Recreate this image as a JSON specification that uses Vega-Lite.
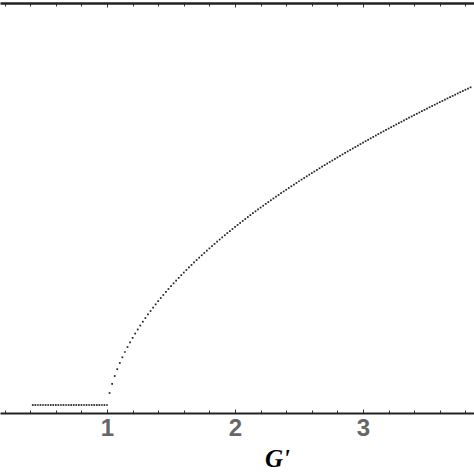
{
  "$schema": "https://vega.github.io/schema/vega-lite/v6.json",
  "width": 474,
  "height": 410,
  "autosize": {"type": "none"},
  "padding": {"left": 0, "right": 0, "top": 3, "bottom": 61},
  "background": "white",
  "view": {"stroke": null},
  "data": {"values": [
    {"g":0.42,"m":0},{"g":0.44,"m":0},{"g":0.46,"m":0},{"g":0.48,"m":0},{"g":0.50,"m":0},{"g":0.52,"m":0},{"g":0.54,"m":0},{"g":0.56,"m":0},{"g":0.58,"m":0},{"g":0.60,"m":0},
    {"g":0.62,"m":0},{"g":0.64,"m":0},{"g":0.66,"m":0},{"g":0.68,"m":0},{"g":0.70,"m":0},{"g":0.72,"m":0},{"g":0.74,"m":0},{"g":0.76,"m":0},{"g":0.78,"m":0},{"g":0.80,"m":0},
    {"g":0.82,"m":0},{"g":0.84,"m":0},{"g":0.86,"m":0},{"g":0.88,"m":0},{"g":0.90,"m":0},{"g":0.92,"m":0},{"g":0.94,"m":0},{"g":0.96,"m":0},{"g":0.98,"m":0},
    {"g":1.00,"m":0},{"g":1.02,"m":0.0586},{"g":1.04,"m":0.1035},{"g":1.06,"m":0.1414},{"g":1.08,"m":0.1748},{"g":1.10,"m":0.2050},{"g":1.12,"m":0.2327},{"g":1.14,"m":0.2586},{"g":1.16,"m":0.2828},{"g":1.18,"m":0.3058},
    {"g":1.20,"m":0.3276},{"g":1.22,"m":0.3485},{"g":1.24,"m":0.3685},{"g":1.26,"m":0.3877},{"g":1.28,"m":0.4063},{"g":1.30,"m":0.4243},{"g":1.32,"m":0.4417},{"g":1.34,"m":0.4586},{"g":1.36,"m":0.4750},{"g":1.38,"m":0.4910},
    {"g":1.40,"m":0.5067},{"g":1.42,"m":0.5219},{"g":1.44,"m":0.5368},{"g":1.46,"m":0.5514},{"g":1.48,"m":0.5657},{"g":1.50,"m":0.5797},{"g":1.52,"m":0.5934},{"g":1.54,"m":0.6069},{"g":1.56,"m":0.6202},{"g":1.58,"m":0.6332},
    {"g":1.60,"m":0.6460},{"g":1.62,"m":0.6586},{"g":1.64,"m":0.6710},{"g":1.66,"m":0.6832},{"g":1.68,"m":0.6952},{"g":1.70,"m":0.7071},{"g":1.72,"m":0.7188},{"g":1.74,"m":0.7304},{"g":1.76,"m":0.7418},{"g":1.78,"m":0.7530},
    {"g":1.80,"m":0.7641},{"g":1.82,"m":0.7751},{"g":1.84,"m":0.7859},{"g":1.86,"m":0.7967},{"g":1.88,"m":0.8073},{"g":1.90,"m":0.8177},{"g":1.92,"m":0.8281},{"g":1.94,"m":0.8384},{"g":1.96,"m":0.8485},{"g":1.98,"m":0.8586},
    {"g":2.00,"m":0.8685},{"g":2.02,"m":0.8784},{"g":2.04,"m":0.8881},{"g":2.06,"m":0.8978},{"g":2.08,"m":0.9074},{"g":2.10,"m":0.9169},{"g":2.12,"m":0.9263},{"g":2.14,"m":0.9356},{"g":2.16,"m":0.9449},{"g":2.18,"m":0.9540},
    {"g":2.20,"m":0.9631},{"g":2.22,"m":0.9721},{"g":2.24,"m":0.9811},{"g":2.26,"m":0.9899},{"g":2.28,"m":0.9987},{"g":2.30,"m":1.0075},{"g":2.32,"m":1.0162},{"g":2.34,"m":1.0248},{"g":2.36,"m":1.0333},{"g":2.38,"m":1.0418},
    {"g":2.40,"m":1.0502},{"g":2.42,"m":1.0586},{"g":2.44,"m":1.0669},{"g":2.46,"m":1.0751},{"g":2.48,"m":1.0833},{"g":2.50,"m":1.0915},{"g":2.52,"m":1.0995},{"g":2.54,"m":1.1076},{"g":2.56,"m":1.1155},{"g":2.58,"m":1.1235},
    {"g":2.60,"m":1.1314},{"g":2.62,"m":1.1392},{"g":2.64,"m":1.1470},{"g":2.66,"m":1.1547},{"g":2.68,"m":1.1624},{"g":2.70,"m":1.1701},{"g":2.72,"m":1.1777},{"g":2.74,"m":1.1852},{"g":2.76,"m":1.1927},{"g":2.78,"m":1.2002},
    {"g":2.80,"m":1.2077},{"g":2.82,"m":1.2151},{"g":2.84,"m":1.2224},{"g":2.86,"m":1.2297},{"g":2.88,"m":1.2370},{"g":2.90,"m":1.2442},{"g":2.92,"m":1.2514},{"g":2.94,"m":1.2586},{"g":2.96,"m":1.2657},{"g":2.98,"m":1.2728},
    {"g":3.00,"m":1.2798},{"g":3.02,"m":1.2869},{"g":3.04,"m":1.2938},{"g":3.06,"m":1.3008},{"g":3.08,"m":1.3077},{"g":3.10,"m":1.3146},{"g":3.12,"m":1.3215},{"g":3.14,"m":1.3283},{"g":3.16,"m":1.3351},{"g":3.18,"m":1.3418},
    {"g":3.20,"m":1.3485},{"g":3.22,"m":1.3552},{"g":3.24,"m":1.3619},{"g":3.26,"m":1.3685},{"g":3.28,"m":1.3752},{"g":3.30,"m":1.3817},{"g":3.32,"m":1.3883},{"g":3.34,"m":1.3948},{"g":3.36,"m":1.4013},{"g":3.38,"m":1.4078},
    {"g":3.40,"m":1.4142},{"g":3.42,"m":1.4206},{"g":3.44,"m":1.4270},{"g":3.46,"m":1.4334},{"g":3.48,"m":1.4397},{"g":3.50,"m":1.4460},{"g":3.52,"m":1.4523},{"g":3.54,"m":1.4586},{"g":3.56,"m":1.4648},{"g":3.58,"m":1.4710},
    {"g":3.60,"m":1.4772},{"g":3.62,"m":1.4834},{"g":3.64,"m":1.4895},{"g":3.66,"m":1.4956},{"g":3.68,"m":1.5017},{"g":3.70,"m":1.5078},{"g":3.72,"m":1.5139},{"g":3.74,"m":1.5199},{"g":3.76,"m":1.5259},{"g":3.78,"m":1.5319},
    {"g":3.80,"m":1.5379},{"g":3.82,"m":1.5438},{"g":3.84,"m":1.5497}
  ]},
  "layer": [
    {
      "mark": {"type": "point", "shape": "square", "filled": true, "size": 3, "color": "#222", "opacity": 1},
      "encoding": {
        "x": {"field": "g", "type": "quantitative",
          "scale": {"domain": [0.164, 3.867], "nice": false, "zero": false},
          "axis": {
            "orient": "bottom",
            "values": [0.2,0.4,0.6,0.8,1,1.2,1.4,1.6,1.8,2,2.2,2.4,2.6,2.8,3,3.2,3.4,3.6,3.8],
            "format": "~g",
            "labelExpr": "datum.value % 1 === 0 ? datum.label : ''",
            "grid": false,
            "domainColor": "#222", "domainWidth": 2,
            "tickColor": "#333", "tickWidth": 1,
            "tickSize": {"condition": {"test": "datum.value % 1 === 0", "value": -4}, "value": -3},
            "labelFont": "Liberation Sans", "labelFontWeight": "bold", "labelFontSize": 24, "labelColor": "#666",
            "labelBaseline": "middle", "labelPadding": 19, "labelFlush": false, "labelOverlap": false,
            "title": "G'", "titleFont": "Liberation Serif", "titleFontStyle": "italic", "titleFontWeight": "bold",
            "titleFontSize": 25, "titleColor": "#000", "titleX": 277, "titleY": 45, "titleBaseline": "middle", "titleAlign": "center"
          }
        },
        "y": {"field": "m", "type": "quantitative",
          "scale": {"domain": [-0.039, 1.961], "nice": false, "zero": false},
          "axis": null
        }
      }
    },
    {
      "mark": {"type": "point", "opacity": 0},
      "encoding": {
        "x": {"field": "g", "type": "quantitative",
          "axis": {
            "orient": "top",
            "values": [0.2,0.4,0.6,0.8,1,1.2,1.4,1.6,1.8,2,2.2,2.4,2.6,2.8,3,3.2,3.4,3.6,3.8],
            "labels": false, "title": null, "grid": false,
            "domainColor": "#222", "domainWidth": 2.5,
            "tickColor": "#333", "tickWidth": 1,
            "tickSize": {"condition": {"test": "datum.value % 1 === 0", "value": -4}, "value": -3}
          }
        },
        "y": {"field": "m", "type": "quantitative"}
      }
    }
  ],
  "resolve": {"axis": {"x": "independent"}}
}
